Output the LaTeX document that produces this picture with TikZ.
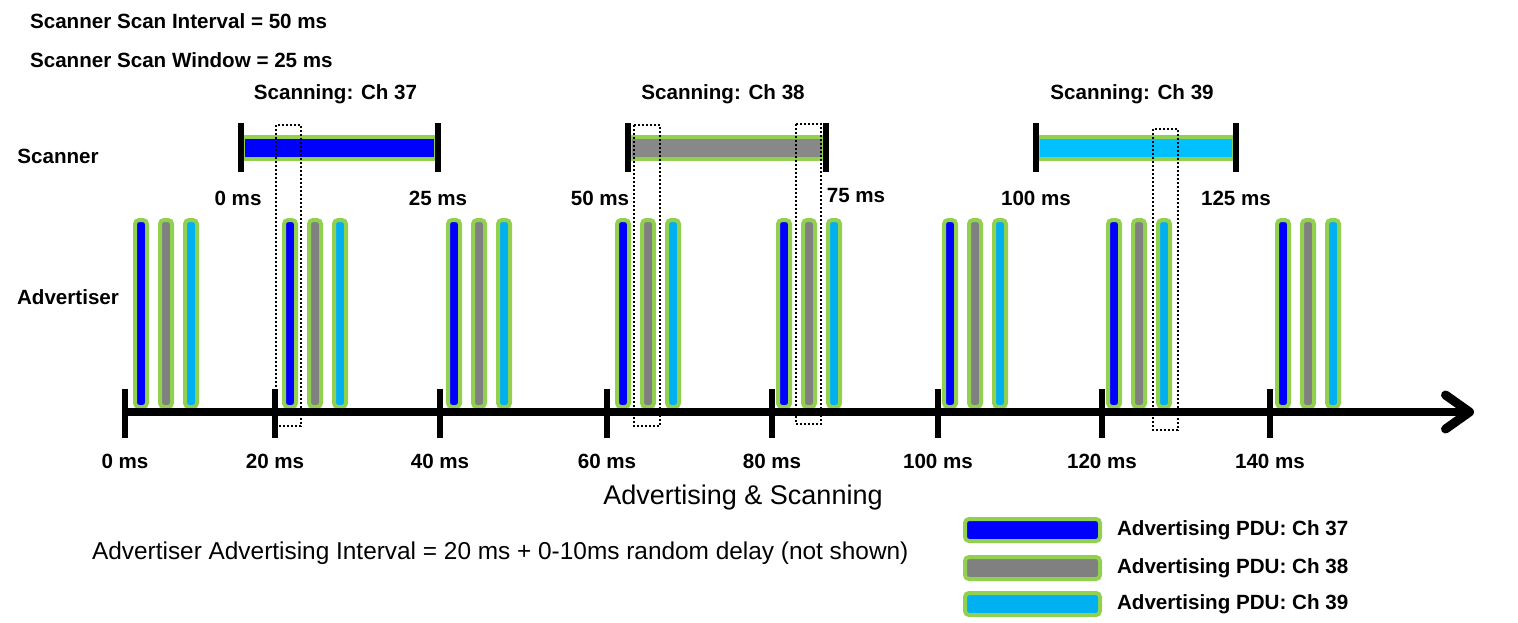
\documentclass[tikz,border=0pt]{standalone}
\usepackage{fontspec}
\setmainfont{Liberation Sans}
\usepackage{tikz}
\usetikzlibrary{arrows.meta}

\definecolor{advgreen}{HTML}{92D050}
\definecolor{chA}{HTML}{0000FF}
\definecolor{chB}{HTML}{808080}
\definecolor{chC}{HTML}{00B0F0}
\definecolor{scanB}{HTML}{888888}
\definecolor{scanC}{HTML}{00C0FF}

\begin{document}
\begin{tikzpicture}[x=0.5pt,y=-0.5pt,
  every node/.style={font=\fontsize{10.3}{12}\selectfont\bfseries},
  advbar/.style={draw=advgreen,line width=2pt,rounded corners=2pt},
  scanbar/.style={draw=advgreen,line width=2pt},
  tick/.style={line width=3pt},
  dotbox/.style={line width=1pt,dash pattern=on 1pt off 1pt}]
\useasboundingbox (0,0) rectangle (1518,622);
% header
\node[anchor=west] (interval) at (23,21) {Scanner Scan Interval = 50 ms};
\node[anchor=west] (window) at (23,60) {Scanner Scan Window = 25 ms};
\node (scanner) at (58,156) {Scanner};
\node (advertiser) at (68,297) {Advertiser};
% scan windows
\foreach \a/\b/\c/\n in {241/438/chA/37,628/826/scanB/38,1036/1236/scanC/39}{
  \filldraw[scanbar,fill=\c] (\a+2,137) rectangle (\b-2,159);
  \draw[tick] (\a,123)--(\a,172);
  \draw[tick] (\b,123)--(\b,172);
  \node (scan\n) at ({(\a+\b)/2-4},94) {Scanning: Ch \n};
}
\node (s0) at (238,198) {0 ms};
\node (s25) at (438,198) {25 ms};
\node (s50) at (600,198) {50 ms};
\node (s75) at (856,196) {75 ms};
\node (s100) at (1036,198) {100 ms};
\node (s125) at (1236,198) {125 ms};
% advertising events
\foreach \x in {133,282,446,615,776,942,1106,1275}{
  \filldraw[advbar,fill=chA] (\x+2,220) rectangle (\x+14,407);
  \filldraw[advbar,fill=chB] (\x+27,220) rectangle (\x+39,407);
  \filldraw[advbar,fill=chC] (\x+52,220) rectangle (\x+64,407);
}
% time axis
\draw[line width=4pt,-{Straight Barb[length=12pt,width=17pt,line width=4.5pt,round]}] (125,412)--(1474,412);
\foreach \x/\t in {125/0,275/20,440/40,607/60,772/80,938/100,1102/120,1270/140}{
  \draw[tick] (\x,389)--(\x,438);
  \node (t\t) at (\x,461) {\t\ ms};
}
% overlaps
\draw[dotbox] (276,125) rectangle (301,426);
\draw[dotbox] (634,125) rectangle (660,426);
\draw[dotbox] (796,124) rectangle (821,424);
\draw[dotbox] (1153,129) rectangle (1178,430);
\node[font=\fontsize{13.5}{16}\selectfont] (title) at (743,498) {Advertising \& Scanning};
\node[anchor=west,font=\fontsize{12.2}{14}\selectfont] (advint) at (85,553) {Advertiser Advertising Interval = 20 ms + 0-10ms random delay (not shown)};
% legend
\foreach \c/\y/\n in {chA/530/37,chB/568/38,chC/604/39}{
  \filldraw[advbar,fill=\c] (965,\y-11) rectangle (1100,\y+11);
  \node[anchor=west] (leg\n) at (1110,\y) {Advertising PDU: Ch \n};
}
\end{tikzpicture}
\end{document}
